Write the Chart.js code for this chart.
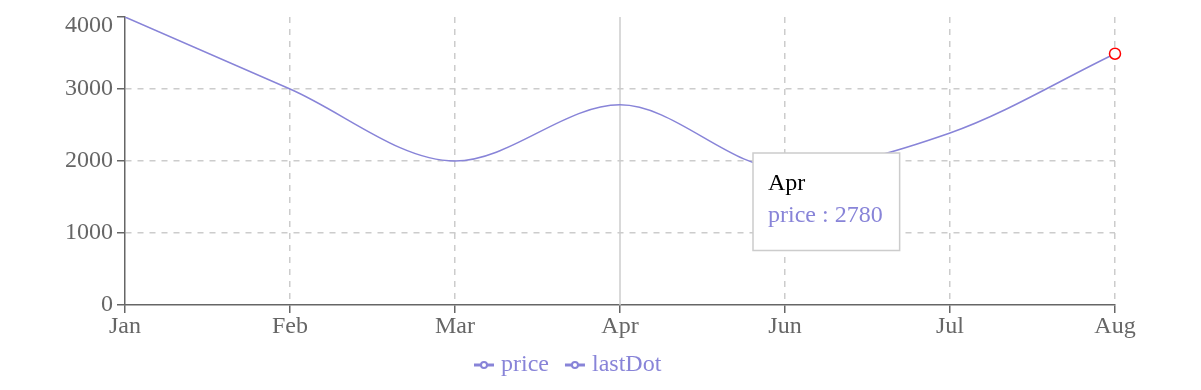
<!DOCTYPE html>
<html>
<head>
<meta charset="utf-8">
<script src="https://cdn.jsdelivr.net/npm/chart.js@4.4.1/dist/chart.umd.min.js"></script>
<style>
  html, body { margin: 0; padding: 0; background: #fff; }
  #c { display: block; }
</style>
</head>
<body>
<canvas id="c" width="1201" height="390"></canvas>
<script>
// ---- data ----
const categories = ['Jan', 'Feb', 'Mar', 'Apr', 'Jun', 'Jul', 'Aug'];
const priceValues = [4000, 3000, 2000, 2780, 1890, 2390, 3490];
const lastDotValues = [null, null, null, null, null, null, 3490];
const yTickValues = [0, 1000, 2000, 3000, 4000];
const seriesNames = ['price', 'lastDot'];
const tooltipIndex = 3;

const FONT = "'Liberation Serif', 'Times New Roman', serif";
const LINE = '#8884d8';
Chart.defaults.font.family = FONT;
Chart.defaults.font.size = 24;

Chart.Tooltip.positioners.fixedBox = function () {
  return { x: 753, y: 153 };
};

const cursorPlugin = {
  id: 'cursor',
  beforeDatasetsDraw(chart) {
    const x = chart.scales.x.getPixelForValue(tooltipIndex);
    const { top, bottom } = chart.chartArea;
    const ctx = chart.ctx;
    ctx.save();
    ctx.strokeStyle = '#ccc';
    ctx.lineWidth = 1.5;
    ctx.beginPath();
    ctx.moveTo(x, top);
    ctx.lineTo(x, bottom);
    ctx.stroke();
    ctx.restore();
  }
};

const legendPlugin = {
  id: 'customLegend',
  afterDraw(chart) {
    const ctx = chart.ctx;
    ctx.save();
    ctx.font = '24px ' + FONT;
    ctx.textBaseline = 'middle';
    ctx.textAlign = 'left';
    const y = 365;
    let x = 474;
    seriesNames.forEach((name) => {
      ctx.strokeStyle = LINE;
      ctx.lineWidth = 3;
      ctx.beginPath();
      ctx.moveTo(x, y);
      ctx.lineTo(x + 20, y);
      ctx.stroke();
      ctx.beginPath();
      ctx.arc(x + 10, y, 3, 0, Math.PI * 2);
      ctx.fillStyle = '#fff';
      ctx.fill();
      ctx.lineWidth = 2;
      ctx.stroke();
      ctx.fillStyle = LINE;
      ctx.fillText(name, x + 27, y);
      x += 27 + ctx.measureText(name).width + 16;
    });
    ctx.restore();
  }
};

const chart = new Chart(document.getElementById('c'), {
  type: 'line',
  data: {
    labels: categories,
    datasets: [
      {
        label: seriesNames[0],
        data: priceValues,
        borderColor: LINE,
        backgroundColor: LINE,
        borderWidth: 1.5,
        cubicInterpolationMode: 'monotone',
        pointRadius: 0,
        pointHoverRadius: 0,
        fill: false,
        order: 1
      },
      {
        label: seriesNames[1],
        data: lastDotValues,
        showLine: false,
        pointRadius: 5.5,
        pointHoverRadius: 5.5,
        pointBorderWidth: 1.5,
        pointHoverBorderWidth: 1.5,
        pointBorderColor: 'red',
        pointBackgroundColor: '#fff',
        pointHoverBorderColor: 'red',
        pointHoverBackgroundColor: '#fff',
        borderColor: LINE,
        clip: false,
        order: 0
      }
    ]
  },
  options: {
    responsive: false,
    animation: false,
    events: [],
    layout: { padding: { top: 17, right: 86, left: 0, bottom: 0 } },
    scales: {
      x: {
        type: 'category',
        offset: false,
        grid: {
          color: (c) => (c.index === 0 || c.index === tooltipIndex ? 'rgba(0,0,0,0)' : '#ccc'),
          tickColor: '#666',
          tickLength: 8,
          tickWidth: 1.5,
          tickBorderDash: [],
          lineWidth: 1.5
        },
        border: { display: true, color: '#666', width: 1.5, dash: [6, 6] },
        ticks: {
          color: '#666',
          padding: -1,
          maxRotation: 0,
          autoSkip: false,
          font: { size: 24, family: FONT }
        },
        afterFit(scale) {
          scale.height = 85;
          scale.paddingLeft = 0;
          scale.paddingRight = 0;
        }
      },
      y: {
        min: 0,
        max: 4000,
        afterBuildTicks(scale) {
          scale.ticks = yTickValues.map((v) => ({ value: v }));
        },
        grid: {
          color: (c) => (c.tick && (c.tick.value === 0 || c.tick.value === 4000) ? 'rgba(0,0,0,0)' : '#ccc'),
          tickColor: '#666',
          tickLength: 8,
          tickWidth: 1.5,
          tickBorderDash: [],
          lineWidth: 1.5
        },
        border: { display: true, color: '#666', width: 1.5, dash: [6, 6] },
        ticks: {
          color: '#666',
          padding: 4,
          font: { size: 24, family: FONT, lineHeight: 0.7 },
          callback: (v) => (v === 4000 ? ['', String(v)] : String(v))
        },
        afterFit(scale) {
          scale.width = 125;
          scale.paddingTop = 0;
          scale.paddingBottom = 0;
        }
      }
    },
    plugins: {
      legend: { display: false },
      tooltip: {
        enabled: true,
        position: 'fixedBox',
        xAlign: 'left',
        yAlign: 'top',
        caretSize: 0,
        caretPadding: 0,
        cornerRadius: 0,
        backgroundColor: '#fff',
        borderColor: '#ccc',
        borderWidth: 1.5,
        titleColor: '#000',
        bodyColor: LINE,
        titleFont: { size: 24, weight: 'normal', family: FONT },
        bodyFont: { size: 24, weight: 'normal', family: FONT },
        titleMarginBottom: 4,
        padding: { top: 16, bottom: 20, left: 15, right: 17 },
        displayColors: false,
        filter: (item) => item.datasetIndex === 0,
        callbacks: {
          title: (items) => items.length ? items[0].label : '',
          label: (item) => item.dataset.label + ' : ' + item.raw
        }
      }
    }
  },
  plugins: [cursorPlugin, legendPlugin]
});

chart.tooltip.setActiveElements([{ datasetIndex: 0, index: tooltipIndex }], { x: 620, y: 100 });
chart.update();
</script>
</body>
</html>
